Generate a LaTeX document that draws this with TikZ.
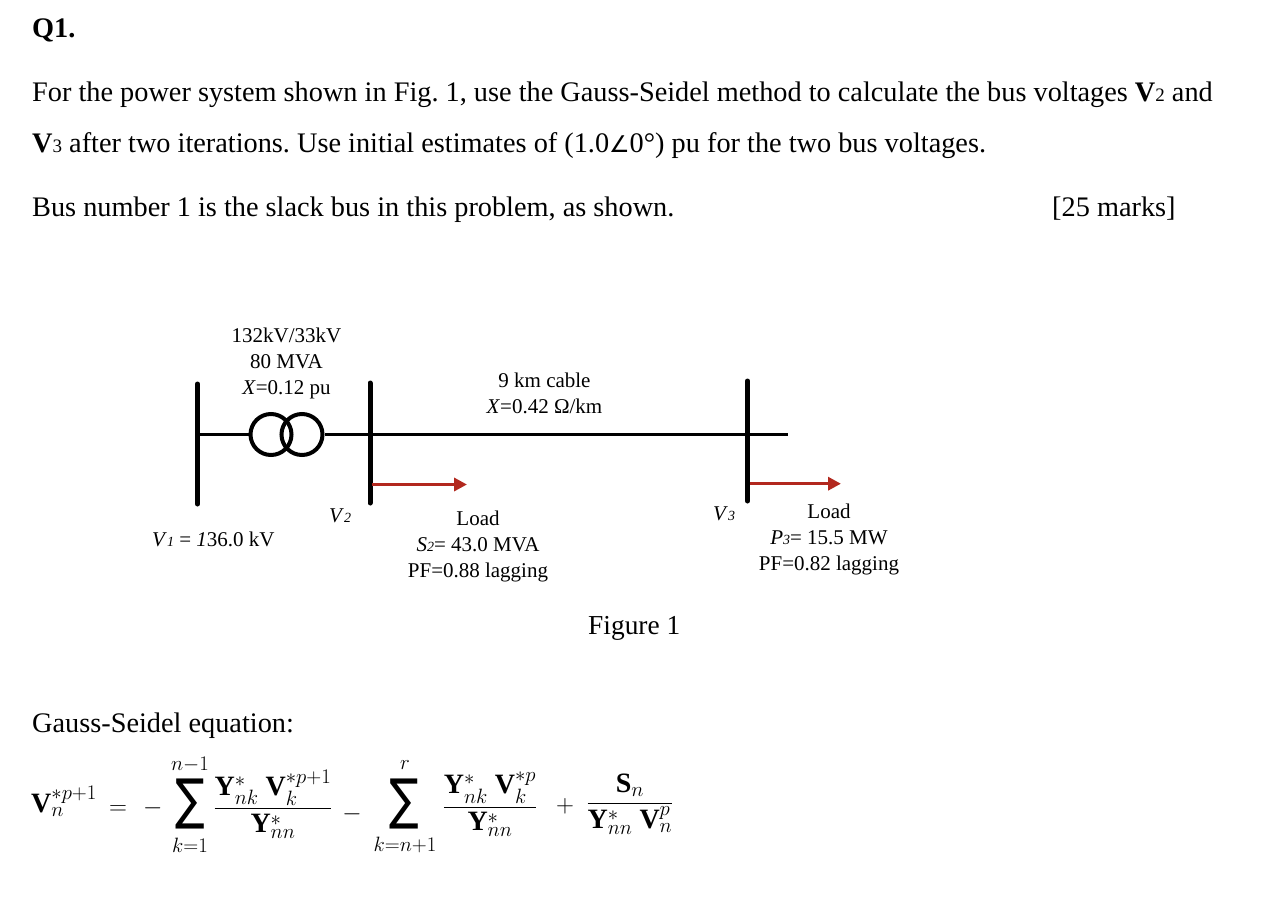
\documentclass[tikz,border=0pt]{standalone}
\usepackage{amsmath}
\usepackage{fontspec}
\setmainfont{Liberation Serif}
\newfontfamily\symfont{DejaVu Sans}
\usetikzlibrary{arrows.meta}
\newcommand{\bY}{\mathbf{Y}}
\newcommand{\bV}{\mathbf{V}}
\frenchspacing
\tikzset{
  bodytext/.style={anchor=base west,inner sep=0pt,font=\frenchspacing\fontsize{28.3}{34}\selectfont},
  figtext/.style={align=center,inner sep=0pt,font=\fontsize{21}{26}\selectfont},
  symtext/.style={anchor=base west,inner sep=0pt,font=\fontsize{21}{25}\selectfont},
  eqn/.style={inner sep=0pt,font=\fontsize{28}{32}\selectfont},
  bigsum/.style={inner sep=0pt,font=\fontsize{44}{46}\selectfont\symfont},
  limit/.style={inner sep=0pt,font=\fontsize{21}{24}\selectfont},
  busbar/.style={line width=5pt,line cap=round},
  feeder/.style={line width=3.8pt},
  winding/.style={draw,circle,line width=4pt,minimum size=41pt,inner sep=0pt},
  loadarrow/.style={draw={rgb,255:red,178;green,40;blue,30},line width=3.4pt,
    -{Triangle[length=13pt,width=13pt,fill={rgb,255:red,178;green,40;blue,30}]}}
}
\begin{document}
\begin{tikzpicture}[x=1pt,y=-1pt]
\useasboundingbox (0,0) rectangle (1280,908);
\fill[white] (0,0) rectangle (1280,908);
% text
\node[bodytext] (q) at (32,37) {\textbf{Q1.}};
\node[bodytext] (l1) at (32,101) {For the power system shown in Fig. 1, use the Gauss-Seidel method to calculate the bus voltages \textbf{V}{\fontsize{19}{19}\selectfont 2} and};
\node[bodytext] (l2) at (32,152) {\textbf{V}{\fontsize{19}{19}\selectfont 3} after two iterations. Use initial estimates of (1.0{\symfont\fontsize{23}{23}\selectfont ∠}0°) pu for the two bus voltages.};
\node[bodytext] (l3) at (32,216) {Bus number 1 is the slack bus in this problem, as shown.};
\node[bodytext] (marks) at (1052,216) {[25 marks]};
\node[bodytext,font=\fontsize{27.4}{34}\selectfont] (fig) at (588,634) {Figure 1};
\node[bodytext] (gs) at (32,732) {Gauss-Seidel equation:};
% network
\coordinate (b1) at (197.5,434.5);
\coordinate (b1t) at (197.5,384);
\coordinate (b1b) at (197.5,504);
\coordinate (b2) at (370,434.5);
\coordinate (b2t) at (370,383);
\coordinate (b2b) at (370,503);
\coordinate (b3) at (747.5,434.5);
\coordinate (b3t) at (747.5,381);
\coordinate (b3b) at (747.5,501);
\coordinate (e) at (788,434.5);
\coordinate (a2s) at (372,484.5);
\coordinate (a2e) at (467,484.5);
\coordinate (a3s) at (750,483.7);
\coordinate (a3e) at (841,483.7);
\node[winding] (t1) at (271,434.5) {};
\node[winding] (t2) at (302,434.5) {};
\draw[feeder] (b1) -- (t1);
\draw[feeder] (t2) -- (b2) -- (b3) -- (e);
\draw[busbar] (b1t) -- (b1b);
\draw[busbar] (b2t) -- (b2b);
\draw[busbar] (b3t) -- (b3b);
\draw[loadarrow] (a2s) -- (a2e);
\draw[loadarrow] (a3s) -- (a3e);
\node[figtext] (tx) at (286.5,363) {132kV/33kV\\80 MVA\\\textit{X}=0.12 pu};
\node[figtext] (cab) at (544.5,393.5) {9 km cable\\\textit{X}=0.42 Ω/km};
\node[figtext] (ld2) at (478,546) {Load\\\textit{S}{\fontsize{14}{14}\selectfont\textit{2}}= 43.0 MVA\\PF=0.88 lagging};
\node[figtext] (ld3) at (829,539) {Load\\\textit{P}{\fontsize{14}{14}\selectfont\textit{3}}= 15.5 MW\\PF=0.82 lagging};
\node[symtext] (v1) at (152,546) {\textit{V}{\fontsize{14}{14}\selectfont\textit{1}} = \textit{1}36.0 kV};
\node[symtext] (v2) at (329,522) {\textit{V}{\fontsize{14}{14}\selectfont\textit{2}}};
\node[symtext] (v3) at (713,520) {\textit{V}{\fontsize{14}{14}\selectfont\textit{3}}};
% equation
\node[eqn,anchor=base west] (e1) at (31,812) {$\bV_n^{*p+1}$};
\node[eqn,anchor=base west] (e2) at (109,814) {$=$};
\node[eqn,anchor=base west] (e2m) at (143,814) {$-$};
\node[bigsum] (s1) at (190,804) {\scalebox{1}[1.25]{∑}};
\node[limit] (s1t) at (190,765) {$n{-}1$};
\node[limit] (s1b) at (190,845) {$k{=}1$};
\node[eqn] (f1) at (273,804) {$\dfrac{\bY_{nk}^{*}\;\bV_{k}^{*p+1}}{\bY_{nn}^{*}}$};
\node[eqn] (m2) at (352,814) {$-$};
\node[bigsum] (s2) at (404,804) {\scalebox{1}[1.25]{∑}};
\node[limit] (s2t) at (405,765) {$r$};
\node[limit] (s2b) at (405,845) {$k{=}n{+}1$};
\node[eqn] (f2) at (490,804) {$\dfrac{\bY_{nk}^{*}\;\bV_{k}^{*p}}{\bY_{nn}^{*}}$};
\node[eqn] (p) at (565,806) {$+$};
\node[eqn] (f3) at (630,804) {$\dfrac{\mathbf{S}_{n}}{\bY_{nn}^{*}\;\bV_{n}^{p}}$};
\end{tikzpicture}
\end{document}
